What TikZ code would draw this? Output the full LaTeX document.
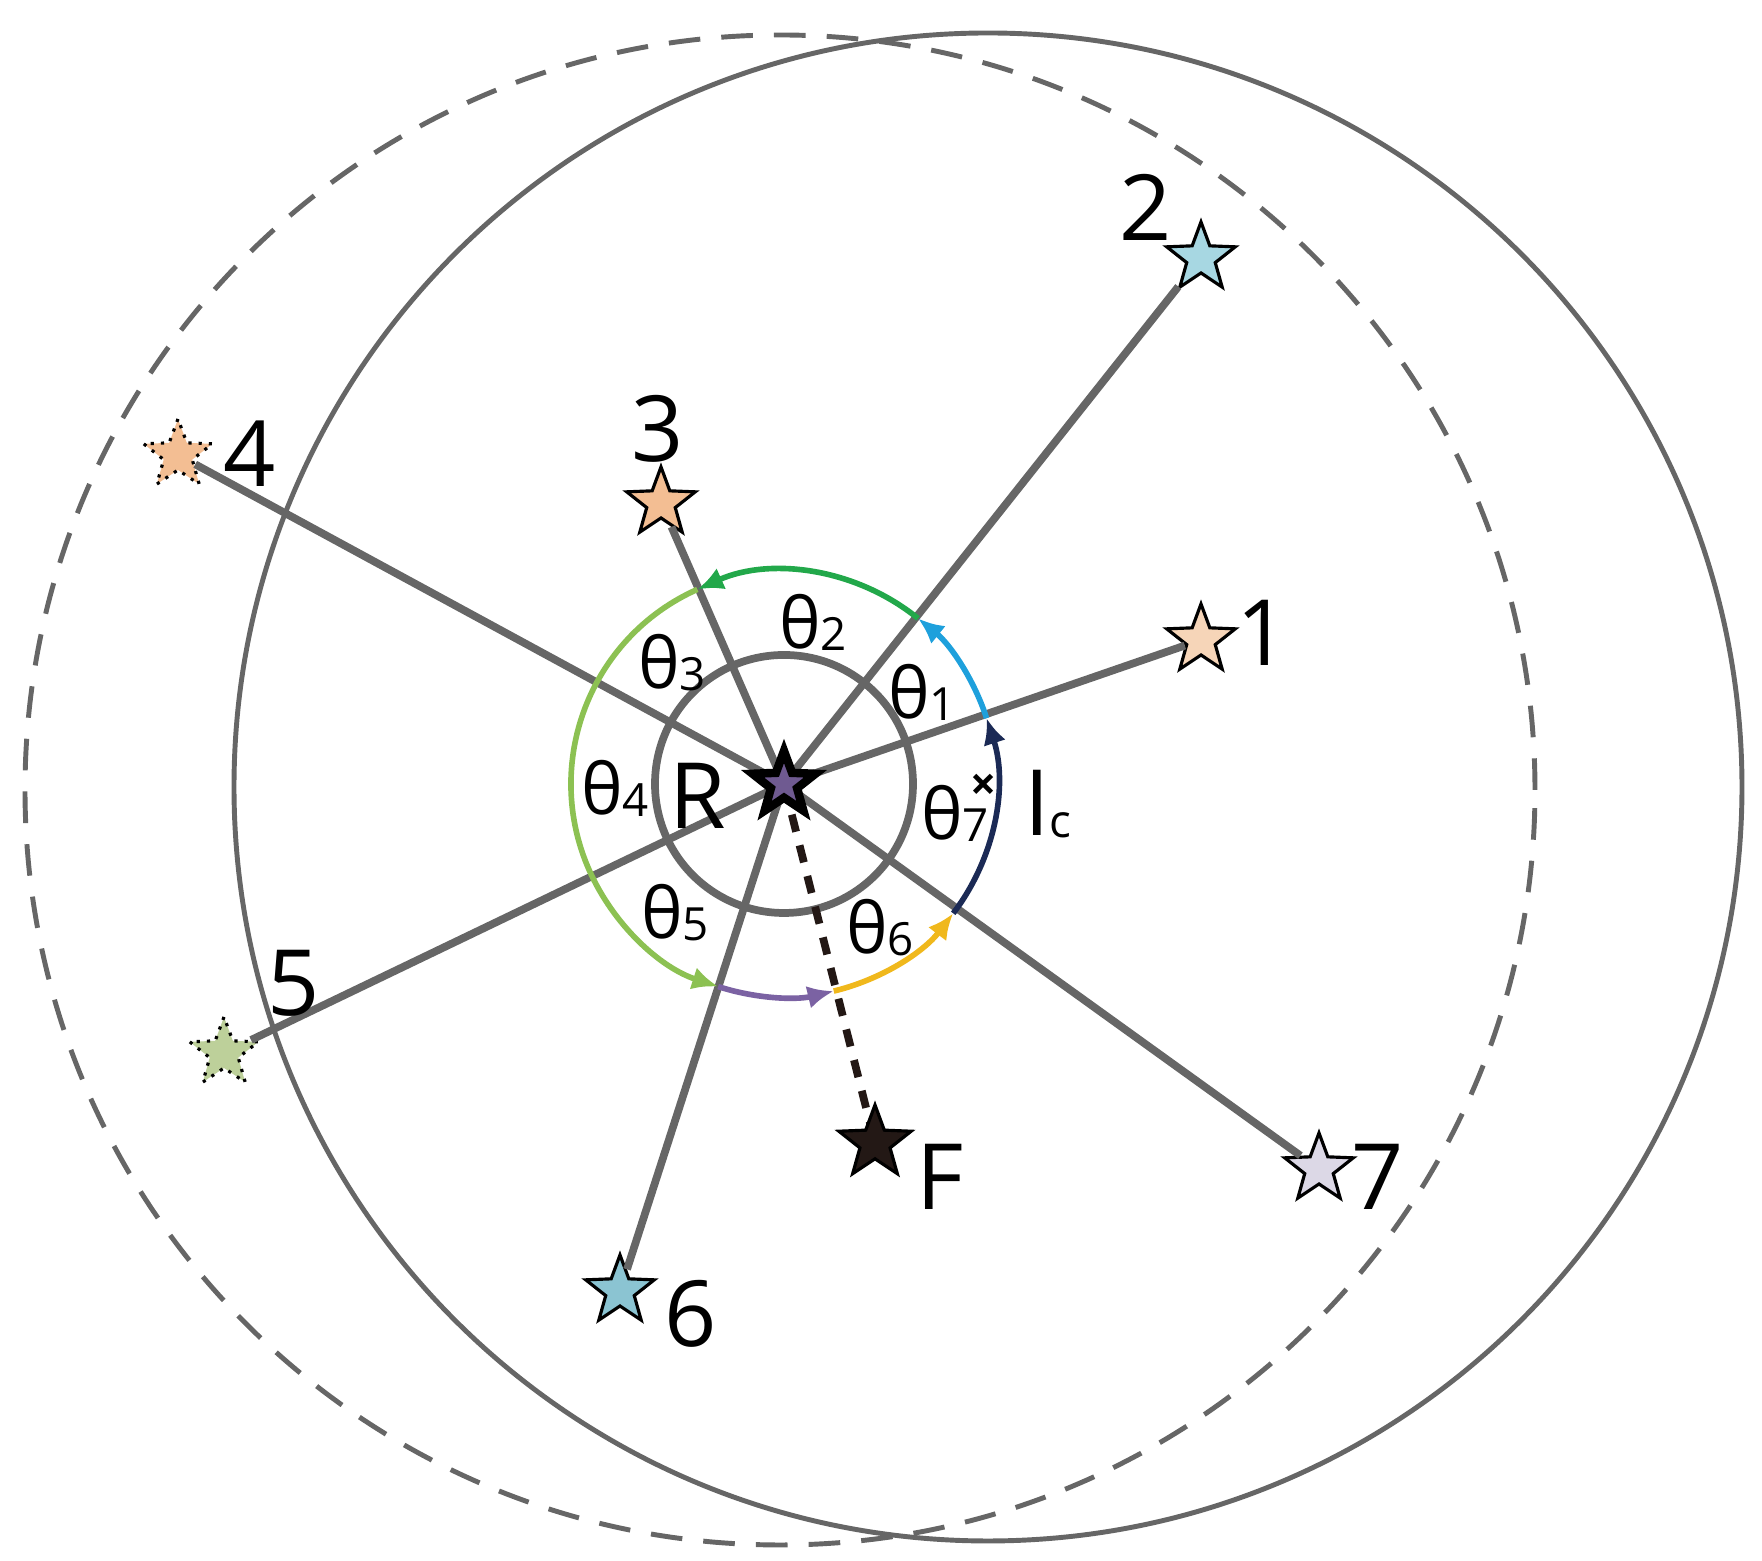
\documentclass[tikz,border=0pt]{standalone}
\usepackage{fontspec}
\setmainfont{Open Sans}
\usetikzlibrary{shapes.geometric,arrows.meta,calc}
\definecolor{gl}{HTML}{666666}
\definecolor{c1}{HTML}{F6D5B8}\definecolor{c2}{HTML}{A7D7E2}\definecolor{c3}{HTML}{F3BE93}
\definecolor{c5}{HTML}{BDD09A}\definecolor{c6}{HTML}{8BC4D2}\definecolor{c7}{HTML}{DCD8E6}
\definecolor{cc}{HTML}{6F5A91}\definecolor{cf}{HTML}{231815}
\definecolor{ablue}{HTML}{1EA0DC}\definecolor{agreen}{HTML}{22A84A}\definecolor{alg}{HTML}{8CC152}
\definecolor{apur}{HTML}{7B62A3}\definecolor{ayel}{HTML}{F0B81C}\definecolor{anav}{HTML}{1B2A55}
\newcommand{\sbx}[1]{\raisebox{-0.05ex}{\fontsize{13}{14}\selectfont #1}}
\tikzset{
 starnode/.style={star,star points=5,star point ratio=2.4,minimum size=0.72cm,inner sep=0pt,draw=black,line width=0.9pt},
 ray/.style={gl,line width=2.2pt},
 lab/.style={font=\fontsize{26}{30}\selectfont,inner sep=0pt},
 th/.style={font=\fontsize{20}{24}\selectfont,inner sep=0pt},
 carc/.style={line width=1.6pt,-{Latex[length=2.6mm,width=2.3mm]}}
}
\begin{document}
\begin{tikzpicture}[x=0.01cm,y=0.01cm]
\useasboundingbox (0,0) rectangle (1762,1561);
\draw[gl,line width=1.4pt] (988,774) circle[radius=754];
\draw[gl,line width=1.4pt,dash pattern=on 9pt off 6pt] (780,771) circle[radius=755];
\coordinate (C) at (784,777);
\draw[gl,line width=2.2pt] (C) circle[radius=129];
% stars
\node[starnode,fill=c1] (s1) at (1201,921) {};
\node[starnode,fill=c2] (s2) at (1201,1303) {};
\node[starnode,fill=c3] (s3) at (661,1058) {};
\node[starnode,fill=c3,dotted] (s4) at (178,1106) {};
\node[starnode,fill=c5,dotted] (s5) at (224,508) {};
\node[starnode,fill=c6] (s6) at (620,270) {};
\node[starnode,fill=c7] (s7) at (1319,392) {};
\foreach \s in {s1,s2,s3,s4,s5,s6,s7} \draw[ray] (C) -- (\s);
\draw[cf,line width=2.2pt,dash pattern=on 5pt off 4pt] (C) -- (875,418) coordinate (Fc);
\node[starnode,fill=cf,minimum size=0.76cm] (F) at (Fc) {};
\node[starnode,fill=cc,line width=2.4pt,minimum size=0.66cm] (Rs) at (C) {};
% arcs
\draw[carc,ablue] ($(C)+(18:213)$) arc[start angle=18,end angle=51,radius=213];
\draw[carc,agreen] ($(C)+(51:213)$) arc[start angle=51,end angle=114,radius=213];
\draw[carc,alg] ($(C)+(114:213)$) arc[start angle=114,end angle=252,radius=213];
\draw[carc,apur] ($(C)+(252:213)$) arc[start angle=252,end angle=283.5,radius=213];
\draw[carc,ayel] ($(C)+(283.5:213)$) arc[start angle=283.5,end angle=322.6,radius=213];
\draw[carc,anav] ($(C)+(322.6:213)$) arc[start angle=322.6,end angle=378,radius=213];
% labels
\node[lab] (l1) at (1263,928) {1};
\node[lab] (l2) at (1146,1354) {2};
\node[lab] (l3) at (658,1132) {3};
\node[lab] (l4) at (250,1107) {4};
\node[lab] (l5) at (294,578) {5};
\node[lab] (l6) at (691,247) {6};
\node[lab] (l7) at (1378,384) {7};
\node[lab] (lF) at (940,384) {F};
\node[lab] (lR) at (698,765) {R};
\node[lab] (lI) at (1048,757) {I\sbx{c}};
\node[th] (t1) at (922,869) {θ\sbx{1}};
\node[th] (t2) at (813,939) {θ\sbx{2}};
\node[th] (t3) at (672,898) {θ\sbx{3}};
\node[th] (t4) at (615,773) {θ\sbx{4}};
\node[th] (t5) at (675,648) {θ\sbx{5}};
\node[th] (t6) at (880,633) {θ\sbx{6}};
\node[th] (t7) at (955,748) {θ\sbx{7}};
\node[font=\fontsize{13}{15}\selectfont\bfseries,inner sep=0pt] (x) at (984,774) {×};
\end{tikzpicture}
\end{document}
